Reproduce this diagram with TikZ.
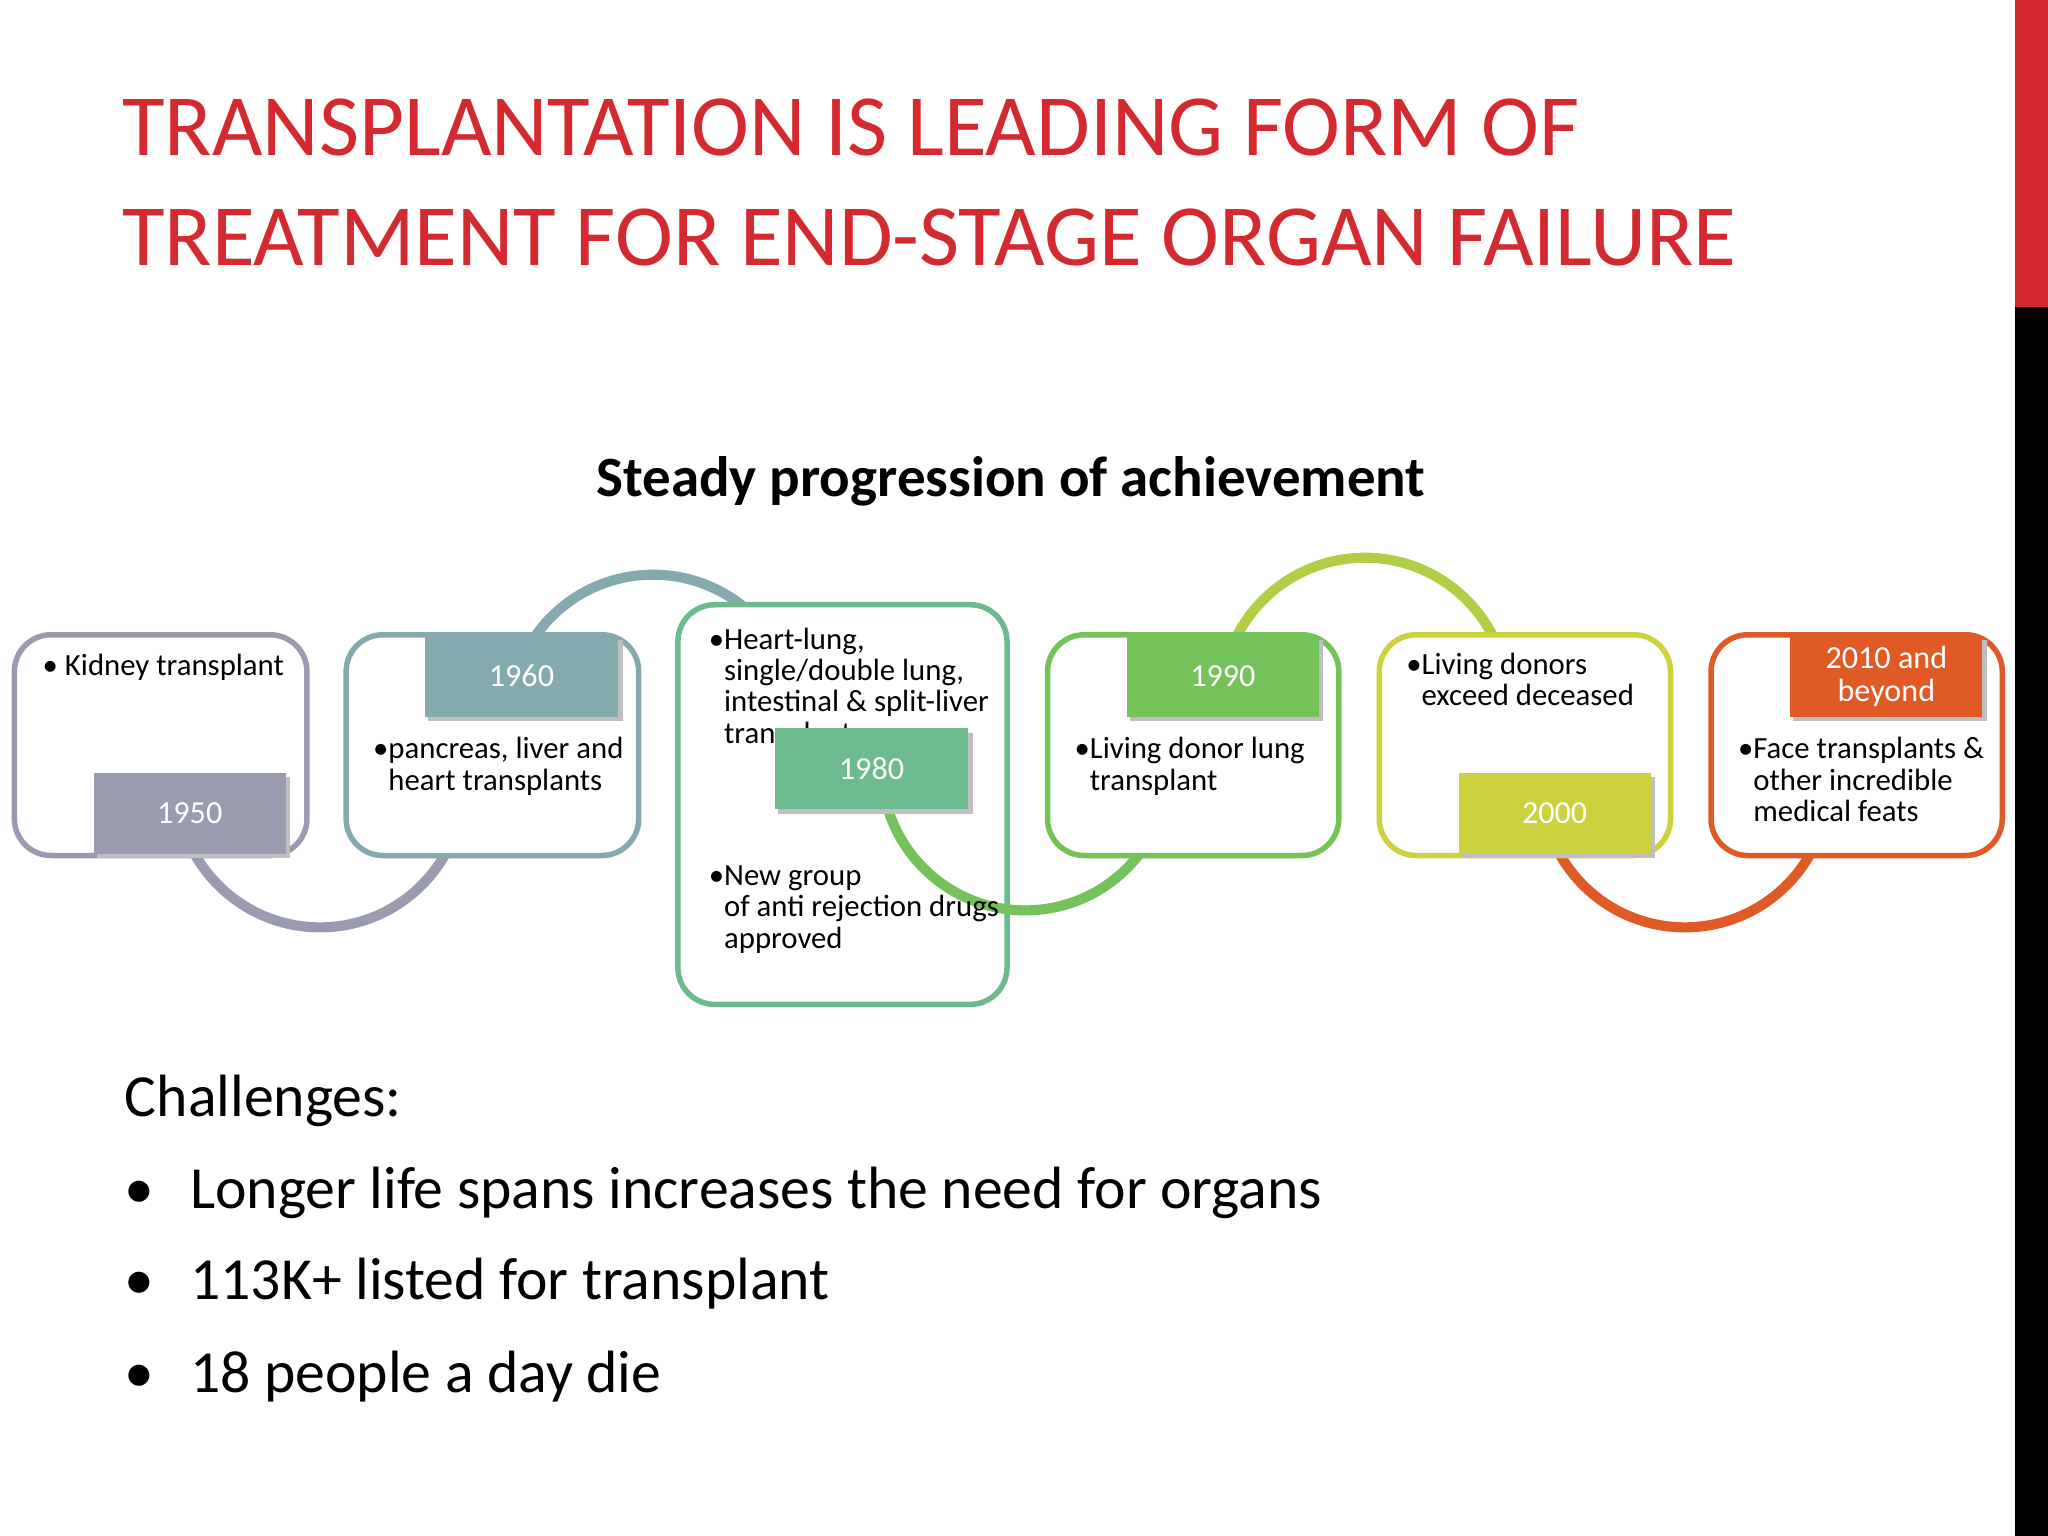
\documentclass[tikz,border=0pt]{standalone}
\usepackage{fontspec}
\setmainfont{Carlito}
\definecolor{tred}{HTML}{D42A2F}
\definecolor{c1}{HTML}{9A9AB0}
\definecolor{c2}{HTML}{84A9AF}
\definecolor{c3}{HTML}{6DBA8E}
\definecolor{c4}{HTML}{74C35A}
\definecolor{c5}{HTML}{CDD13E}
\definecolor{c6}{HTML}{E05A26}
\newcommand{\ind}{\phantom{•}}
\begin{document}
\begin{tikzpicture}[x=0.01cm,y=-0.01cm,
  box/.style={draw=#1,fill=white,line width=1.2pt,rounded corners=8pt},
  lab/.style={fill=#1,text=white,inner sep=0pt,font=\fontsize{7}{7.2}\selectfont,align=center,minimum width=1.47cm,minimum height=0.62cm,anchor=north west},
  txt/.style={anchor=north west,font=\fontsize{6.7}{6.83}\selectfont,align=left,inner sep=0pt},
  arcl/.style={draw=#1,line width=2.2pt},
  big/.style={anchor=base west,font=\fontsize{13}{15}\selectfont,inner sep=0pt}]
\useasboundingbox (0,0) rectangle (1568,1176);
\fill[white] (0,0) rectangle (1568,1176);
\fill[tred] (1543,0) rectangle (1568,235);
\fill[black] (1543,235) rectangle (1568,1176);
\node[anchor=north west,text=tred,font=\fontsize{19}{23.9}\selectfont,align=left,inner sep=0pt] (title) at (93,75) {TRANSPLANTATION IS LEADING FORM OF\\TREATMENT FOR END-STAGE ORGAN FAILURE};
\node[anchor=base,font=\bfseries\fontsize{12.4}{14}\selectfont,inner sep=0pt] (sub) at (774,380) {Steady progression of achievement};
% arcs behind
\draw[arcl=c1] (135,600) arc (180:0:110);
\draw[arcl=c2] (390,550) arc (180:360:110);
\draw[arcl=c5!70!c4] (935,537) arc (180:360:110);
\draw[arcl=c6] (1180,600) arc (180:0:110);
% boxes
\draw[box=c1] (11,486) rectangle (235,655);
\draw[box=c2] (265,486) rectangle (489,655);
\draw[box=c3] (519,463) rectangle (771,769);
\draw[arcl=c4] (675,587) arc (180:0:110);
\draw[box=c4] (802,486) rectangle (1025,655);
\draw[box=c5] (1056,486) rectangle (1279,655);
\draw[box=c6] (1310,486) rectangle (1533,655);
% texts
\node[txt] (t1) at (32,500) {• Kidney transplant};
\node[txt] (t2) at (285,564) {•pancreas, liver and\\\ind heart transplants};
\node[txt] (t3) at (542,480) {•Heart-lung,\\\ind single/double lung,\\\ind intestinal \& split-liver\\\ind transplant};
\node[txt] (t3b) at (542,662) {•New group\\\ind of anti rejection drugs\\\ind approved};
\node[txt] (t4) at (822,564) {•Living donor lung\\\ind transplant};
\node[txt] (t5) at (1076,499) {•Living donors\\\ind exceed deceased};
\node[txt] (t6) at (1330,564) {•Face transplants \&\\\ind other incredible\\\ind medical feats};
% labels
\begin{scope}[every node/.append style={}]
\fill[black!25] (74,595) rectangle (222,657);
\node[lab=c1] (l1) at (71,591) {1950};
\fill[black!25] (328,490) rectangle (477,552);
\node[lab=c2] (l2) at (325,486) {1960};
\fill[black!25] (596,561) rectangle (745,623);
\node[lab=c3] (l3) at (593,557) {1980};
\fill[black!25] (865,490) rectangle (1013,552);
\node[lab=c4] (l4) at (862,486) {1990};
\fill[black!25] (1119,595) rectangle (1267,657);
\node[lab=c5] (l5) at (1116,591) {2000};
\fill[black!25] (1373,490) rectangle (1521,552);
\node[lab=c6] (l6) at (1370,486) {2010 and\\beyond};
\end{scope}
% challenges
\node[big] (ch) at (95,855) {Challenges:};
\node[big] (b1) at (95,925) {•};
\node[big] (s1) at (145,925) {Longer life spans increases the need for organs};
\node[big] (b2) at (95,995) {•};
\node[big] (s2) at (145,995) {113K+ listed for transplant};
\node[big] (b3) at (95,1066) {•};
\node[big] (s3) at (145,1066) {18 people a day die};
\end{tikzpicture}
\end{document}
